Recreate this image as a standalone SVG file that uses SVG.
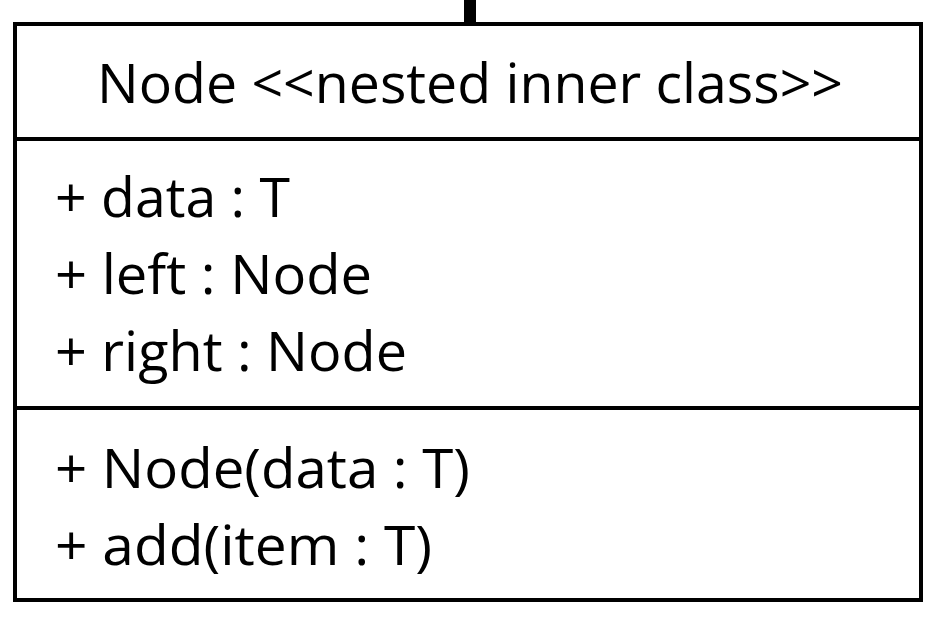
<svg xmlns="http://www.w3.org/2000/svg" width="938" height="626" viewBox="0 0 938 626">
<style>
.box{fill:#fff;stroke:#000;stroke-width:4}
.ln{stroke:#000;stroke-width:4}
.t{font-family:"Open Sans","Noto Sans","DejaVu Sans",sans-serif;font-size:54px;fill:#000}
</style>
<rect width="938" height="626" fill="#fff"/>
<g id="connectors">
<line x1="470" y1="0" x2="470" y2="24" stroke="#000" stroke-width="12"/>
</g>
<g id="node-class">
<rect class="box" x="15" y="24" width="906" height="576"/>
<line class="ln" x1="15" y1="139" x2="921" y2="139"/>
<line class="ln" x1="15" y1="408" x2="921" y2="408"/>
<text class="t" x="97" y="103" textLength="746" lengthAdjust="spacingAndGlyphs">Node &lt;&lt;nested inner class&gt;&gt;</text>
<text class="t" x="55" y="217" textLength="235" lengthAdjust="spacingAndGlyphs">+ data : T</text>
<text class="t" x="55" y="294" textLength="317" lengthAdjust="spacingAndGlyphs">+ left : Node</text>
<text class="t" x="55" y="371" textLength="352" lengthAdjust="spacingAndGlyphs">+ right : Node</text>
<text class="t" x="55" y="488" textLength="415" lengthAdjust="spacingAndGlyphs">+ Node(data : T)</text>
<text class="t" x="55" y="565" textLength="377" lengthAdjust="spacingAndGlyphs">+ add(item : T)</text>
</g>
</svg>
